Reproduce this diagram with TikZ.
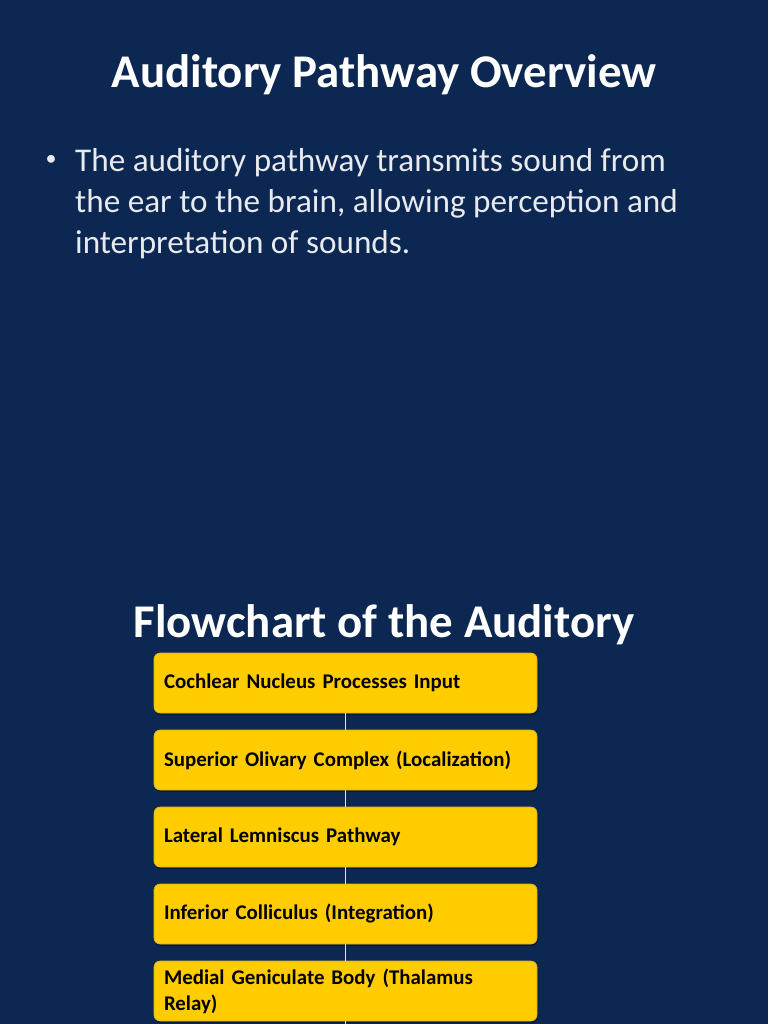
\documentclass[tikz,border=0pt]{standalone}
\usepackage{fontspec}
\setmainfont{Carlito}
\usetikzlibrary{shadows}
\definecolor{bgnavy}{RGB}{12,40,82}
\definecolor{boxyellow}{RGB}{255,204,0}
\definecolor{boxedge}{RGB}{214,178,40}
\definecolor{bullettext}{RGB}{232,234,238}
\tikzset{
  flowbox/.style={rectangle, rounded corners=6pt, fill=boxyellow, draw=boxedge, line width=0.6pt,
    minimum width=383pt, minimum height=60pt, text width=363pt, align=left, inner xsep=10pt,
    font=\bfseries\fontsize{20.9}{26}\selectfont, text=black,
    drop shadow={shadow xshift=1pt, shadow yshift=-2pt, opacity=0.35, fill=black}},
  flowlink/.style={draw={rgb,255:red,225;green,228;blue,235}, line width=1.2pt},
  titletext/.style={font=\bfseries\fontsize{46.9}{52}\selectfont, text=white, inner sep=0pt},
  bodyline/.style={font=\fontsize{33.2}{40.5}\selectfont, text=bullettext, anchor=base west, inner sep=0pt}
}
\begin{document}
\begin{tikzpicture}[x=1pt,y=-1pt]
\fill[bgnavy] (0,0) rectangle (768,1024);
\useasboundingbox (0,0) rectangle (768,1024);
\node[titletext, anchor=base] (title) at (384,88) {Auditory Pathway Overview};
\node[text=bullettext, font=\fontsize{22}{26}\selectfont, inner sep=0pt] (bul) at (51,160) {•};
\node[bodyline] (l1) at (75,172) {The auditory pathway transmits sound from};
\node[bodyline] (l2) at (75,213) {the ear to the brain, allowing perception and};
\node[bodyline] (l3) at (75,253) {interpretation of sounds.};
\node[titletext, anchor=base] (ftitle) at (384,637) {Flowchart of the Auditory};
\node[flowbox] (b1) at (345.5,683) {Cochlear Nucleus Processes Input};
\node[flowbox] (b2) at (345.5,760) {Superior Olivary Complex (Localization)};
\node[flowbox] (b3) at (345.5,837) {Lateral Lemniscus Pathway};
\node[flowbox] (b4) at (345.5,914) {Inferior Colliculus (Integration)};
\node[flowbox] (b5) at (345.5,991) {Medial Geniculate Body (Thalamus\\Relay)};
\coordinate (tail) at (345.5,1040);
\draw[flowlink] (b1.south) -- (b2.north);
\draw[flowlink] (b2.south) -- (b3.north);
\draw[flowlink] (b3.south) -- (b4.north);
\draw[flowlink] (b4.south) -- (b5.north);
\draw[flowlink] (b5.south) -- (tail);
\end{tikzpicture}
\end{document}
